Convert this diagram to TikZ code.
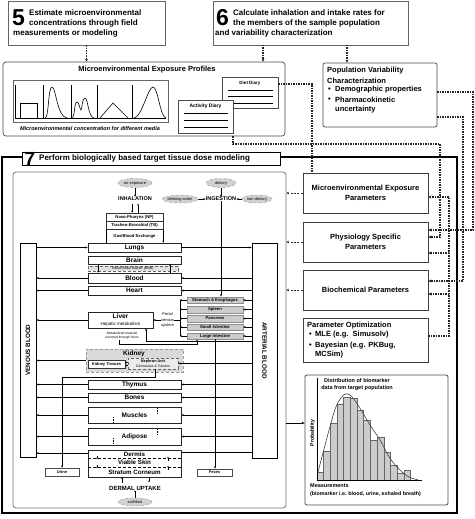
\documentclass[tikz,border=0pt]{standalone}
\usepackage{fontspec}
\setmainfont{Liberation Sans}
\usetikzlibrary{arrows.meta,shapes.geometric,calc}
\begin{document}
\begin{tikzpicture}[x=1pt,y=-1pt,
  hbox/.style={draw=black!60, line width=0.8pt, fill=white, inner sep=0pt},
  htxt/.style={inner sep=0pt, font=\fontsize{8}{9}\bfseries\selectfont},
  bignum/.style={inner sep=0pt, font=\fontsize{23}{23}\bfseries\selectfont},
  pbox/.style={draw=black!70, line width=0.7pt, fill=white, inner sep=0pt},
  ptxt/.style={inner sep=0pt, anchor=west, font=\fontsize{7.5}{9}\bfseries\selectfont},
  rbox/.style={draw=black!75, line width=0.8pt, fill=white, minimum width=125pt, minimum height=40pt, inner sep=0pt, align=center, font=\fontsize{7.5}{10}\bfseries\selectfont},
  organ/.style={draw=black!85, line width=0.6pt, fill=white, minimum width=93pt, inner sep=0pt, font=\fontsize{6.5}{7}\bfseries\selectfont},
  gi/.style={draw=black!45, fill=black!20, line width=0.4pt, minimum width=56pt, minimum height=6.5pt, inner sep=0pt, font=\fontsize{4.2}{5}\bfseries\selectfont},
  src/.style={ellipse, draw=black!40, densely dashed, line width=0.4pt, fill=black!18, inner sep=0pt, font=\fontsize{4}{5}\selectfont},
  small/.style={inner sep=0pt, font=\fontsize{4.2}{5}\bfseries\selectfont},
  arr/.style={-{Stealth[length=2.4pt,width=2pt]}, line width=0.45pt},
  tarr/.style={-{Stealth[length=1.8pt,width=1.6pt]}, line width=0.4pt},
  dotl/.style={line width=1.3pt, dash pattern=on 1.3pt off 1.2pt, black!85},
  dotarr/.style={dotl, -{Stealth[length=3pt,width=3pt]}},
  dasharr/.style={-{Stealth[length=2.6pt,width=2.6pt]}, line width=0.8pt, dash pattern=on 2pt off 1.3pt, black!80}
]
\useasboundingbox (0,0) rectangle (474,519);
\fill[white] (0,0) rectangle (474,519);

% ---------- box 5 ----------
\node[hbox, minimum width=157pt, minimum height=44pt] (b5) at (86.5,23) {};
\node[bignum] (n5) at (18.5,17.5) {5};
\node[htxt, anchor=west] (t5a) at (29,13) {Estimate microenvironmental};
\node[htxt, anchor=west] (t5b) at (29,23) {concentrations through field};
\node[htxt, anchor=west] (t5c) at (13,33.5) {measurements or modeling};

% ---------- box 6 ----------
\node[hbox, minimum width=195pt, minimum height=44pt] (b6) at (310.5,23) {};
\node[bignum] (n6) at (222.5,17.5) {6};
\node[htxt, anchor=west] (t6a) at (233,13) {Calculate inhalation and intake rates for};
\node[htxt, anchor=west] (t6b) at (233,23) {the members of the sample population};
\node[htxt, anchor=west] (t6c) at (215,33.5) {and variability characterization};

% ---------- profiles ----------
\node[pbox, rounded corners=3pt, minimum width=282pt, minimum height=74pt] (prof) at (144,99) {};
\node[inner sep=0pt, font=\fontsize{7.5}{9}\bfseries\selectfont] (proft) at (147,70) {Microenvironmental Exposure Profiles};
\node[draw=black!60, line width=0.6pt, minimum width=155pt, minimum height=42pt, inner sep=0pt] (plot) at (90.5,101) {};
\begin{scope}[line width=0.6pt]
  \draw (15,85) -- (15,118) -- (166,118);
  \draw (43,85) -- (43,118);
  \draw (71,85) -- (71,118);
  \draw (97,85) -- (97,118);
  \draw (132,85) -- (132,118);
  \draw (20,118) -- (20,103) -- (37,103) -- (37,118);
  \draw (45,118) .. controls (49,118) and (48,87) .. (52,87) .. controls (56,87) and (57,117) .. (67,118);
  \draw (72,118) .. controls (75,117) and (74,102) .. (77,102) .. controls (79,102) and (80,110) .. (81,110) .. controls (82,110) and (82,98) .. (85,98) .. controls (88,98) and (88,117) .. (94,118);
  \draw (100,118) -- (113,103) -- (128,118);
  \draw (134,118) .. controls (142,117) and (148,87) .. (153,87) .. controls (158,87) and (160,117) .. (166,118);
\end{scope}
\node[inner sep=0pt, font=\fontsize{5.5}{6}\bfseries\itshape\selectfont] (cap) at (90,129) {Microenvironmental concentration for different media};

\node[pbox, minimum width=56pt, minimum height=31pt] (diet) at (250,92.5) {};
\node[inner sep=0pt, font=\fontsize{4.5}{5}\bfseries\selectfont] (dietT) at (250,83) {Diet Diary};
\draw[line width=0.5pt] (228,90) -- (273,90) (228,96.5) -- (273,96.5) (228,103) -- (273,103);
\node[pbox, minimum width=55pt, minimum height=33pt] (act) at (205.5,116.5) {};
\node[inner sep=0pt, font=\fontsize{5}{6}\bfseries\selectfont] (actT) at (205.5,106) {Activity Diary};
\draw[line width=0.5pt] (184,113) -- (228,113) (184,120) -- (228,120) (184,127) -- (228,127);

% ---------- population variability ----------
\node[pbox, rounded corners=2pt, minimum width=114pt, minimum height=64pt] (pop) at (380,95) {};
\node[ptxt] (p1) at (327,71) {Population Variability};
\node[ptxt] (p2) at (327,80.5) {Characterization};
\node[ptxt] (p3b) at (328,90) {\textbullet};
\node[ptxt] (p3) at (335,90) {Demographic properties};
\node[ptxt] (p4b) at (328,100) {\textbullet};
\node[ptxt] (p4) at (335,100) {Pharmacokinetic};
\node[ptxt] (p5) at (335,110) {uncertainty};

% ---------- frame 7 ----------
\node[draw, line width=2.6pt, minimum width=455pt, minimum height=356pt, inner sep=0pt] (frame) at (229.5,335) {};
\node[draw, line width=0.8pt, fill=white, minimum width=258pt, minimum height=13pt, inner sep=0pt] (h7) at (151,158.5) {};
\node[inner sep=0pt, font=\fontsize{19}{19}\bfseries\selectfont] (n7) at (30,159) {7};
\node[htxt, anchor=west] (t7) at (39,158.5) {Perform biologically based target tissue dose modeling};

% ---------- inner model box ----------
\node[draw=black!55, line width=0.8pt, rounded corners=3pt, minimum width=273pt, minimum height=336pt, inner sep=0pt] (inner) at (149.5,340) {};

% ---------- right boxes ----------
\node[rbox] (mep) at (365.5,193) {Microenvironmental Exposure\\Parameters};
\node[rbox] (phys) at (365.5,242) {Physiology Specific\\Parameters};
\node[rbox] (bio) at (365.5,290) {Biochemical Parameters};
\node[rbox, minimum height=44pt] (opt) at (365.5,340) {};
\node[ptxt] (o1) at (307,326) {Parameter Optimization};
\node[ptxt] (o2b) at (309,334.5) {\textbullet};
\node[ptxt] (o2) at (315,334.5) {MLE (e.g.\ \ Simusolv)};
\node[ptxt] (o3b) at (309,346) {\textbullet};
\node[ptxt] (o3) at (315,346) {Bayesian (e.g. PKBug,};
\node[ptxt] (o4) at (315,355) {MCSim)};

\node[draw=black!70, line width=0.8pt, rounded corners=2pt, minimum width=143pt, minimum height=130pt, inner sep=0pt] (dist) at (376.5,440) {};
\foreach \t [count=\i from 0] in {471.7,450.7,422.7,404,396.7,398.3,410,420,440,436.7,451.7,465,472.7,470}
  \draw[fill=black!20, draw=black!60, line width=0.4pt] ({317+\i*6.67},480) rectangle ({317+(\i+1)*6.67},\t);
\draw[line width=0.6pt] (317,378) -- (317,480) -- (422,480);
\draw[line width=0.6pt, black!75] plot[smooth, tension=0.6] coordinates {(318,472) (323.3,451.7) (330,426.7) (336.7,405) (345,394) (351.7,396.7) (360,408.3) (370,425) (380,440) (390,458.3) (400,470) (408.3,476.7) (418.3,480)};
\node[inner sep=0pt, font=\fontsize{5.5}{6}\bfseries\selectfont] (dt1) at (357,381) {Distribution of biomarker};
\node[inner sep=0pt, font=\fontsize{5.5}{6}\bfseries\selectfont] (dt2) at (357,388) {data from target population};
\node[inner sep=0pt, rotate=90, font=\fontsize{5.2}{6}\bfseries\selectfont] (prob) at (312.5,433) {Probability};
\node[inner sep=0pt, anchor=west, font=\fontsize{5.5}{6}\bfseries\selectfont] (ms1) at (310,486) {Measurements};
\node[inner sep=0pt, anchor=west, font=\fontsize{5.3}{6}\bfseries\selectfont] (ms2) at (310,494) {(biomarker i.e. blood, urine, exhaled breath)};

% ---------- PBPK model ----------
\node[draw, line width=0.6pt, minimum width=16pt, minimum height=214pt, inner sep=0pt] (ven) at (28,350) {};
\node[inner sep=0pt, rotate=90, font=\fontsize{6.3}{7}\bfseries\selectfont] (venT) at (ven.center) {VENOUS BLOOD};
\node[draw, line width=0.6pt, minimum width=25pt, minimum height=215pt, inner sep=0pt] (art) at (264.5,350.5) {};
\node[inner sep=0pt, rotate=-90, font=\fontsize{6.3}{7}\bfseries\selectfont] (artT) at (art.center) {ARTERIAL BLOOD};

\node[src, minimum width=34pt, minimum height=9pt] (air) at (135,183) {air exposure};
\node[inner sep=0pt, font=\fontsize{5.5}{6}\bfseries\selectfont] (inh) at (135,199) {INHALATION};
\node[draw=black!80, line width=0.5pt, fill=white, minimum width=57pt, minimum height=8pt, small] (np) at (134.5,217) {Naso-Pharynx (NP)};
\node[draw=black!80, line width=0.5pt, fill=white, minimum width=57pt, minimum height=8pt, small] (tb) at (134.5,225) {Tracheo-Bronchial (TB)};
\node[small] (gas) at (134.5,236) {Gas/Blood Exchange};

\node[src, minimum width=30pt, minimum height=9pt] (dty) at (221,183) {dietary};
\node[inner sep=0pt, font=\fontsize{5.5}{6}\bfseries\selectfont] (ing) at (221,199) {INGESTION};
\node[src, minimum width=33pt, minimum height=8pt] (drw) at (180,199) {drinking water};
\node[src, minimum width=30pt, minimum height=8pt] (ndt) at (257,199) {non-dietary};

\node[organ, minimum height=9pt] (lungs) at (134.5,247.5) {Lungs};
\node[organ, minimum height=8pt] (brain) at (134.5,260) {Brain};
\node[draw=black!60, densely dashed, line width=0.4pt, fill=black!12, minimum width=90pt, minimum height=5pt, inner sep=0pt, font=\fontsize{3.6}{4}\selectfont] (bbb) at (133,268.5) {Blood Brain Barrier (BBB)};
\node[organ, minimum height=10pt] (blood) at (134.5,278) {Blood};
\node[organ, minimum height=9pt] (heart) at (134.5,290.5) {Heart};
\node[organ, minimum width=65pt, minimum height=16pt] (liver) at (120.5,320) {};
\node[inner sep=0pt, font=\fontsize{6.5}{7}\bfseries\selectfont] (liverT) at (120.5,316.5) {Liver};
\node[inner sep=0pt, font=\fontsize{4.5}{5}\selectfont] (liverS) at (120.5,324) {Hepatic metabolism};
\node[inner sep=0pt, align=center, font=\fontsize{3.3}{4}\selectfont] (metab) at (122,336) {Metabolized material\\excreted through feces};

\node[gi] (stom) at (215,300) {Stomach \& Esophagus};
\node[gi] (spl) at (215,309.5) {Spleen};
\node[gi] (pan) at (215,318.5) {Pancreas};
\node[gi] (sint) at (215,327) {Small Intestine};
\node[gi] (lint) at (215,336) {Large Intestine};

\node[draw=black!40, densely dashed, line width=0.4pt, fill=black!15, minimum width=97pt, minimum height=23pt, inner sep=0pt] (kid) at (134.5,360.5) {};
\node[inner sep=0pt, font=\fontsize{6.5}{7}\bfseries\selectfont] (kidT) at (134,353.5) {Kidney};
\node[draw=black!80, line width=0.5pt, fill=white, minimum width=37pt, minimum height=8pt, inner sep=0pt, font=\fontsize{4}{5}\bfseries\selectfont] (ktis) at (106.5,364) {Kidney Tissues};
\node[draw=black!60, densely dashed, line width=0.4pt, fill=black!8, minimum width=50pt, minimum height=11pt, inner sep=0pt, align=center, font=\fontsize{3.8}{4.4}\bfseries\selectfont] (neph) at (153,363.5) {Nephron Unit\\{\fontsize{3.4}{4}\mdseries\selectfont Glomerulus \& Tubules}};

\node[organ, minimum height=9pt] (thy) at (134.5,384.5) {Thymus};
\node[organ, minimum height=9pt] (bon) at (134.5,397.5) {Bones};
\node[organ, minimum height=16pt] (mus) at (134.5,415) {Muscles};
\node[organ, minimum height=17pt] (adi) at (134.5,436.5) {Adipose};
\node[organ, minimum height=27pt] (skin) at (134.5,463.5) {};
\draw[densely dashed, line width=0.5pt] (88,458) -- (181,458) (88,467) -- (181,467);
\node[inner sep=0pt, font=\fontsize{6.2}{7}\bfseries\selectfont] (derT) at (134.5,453.8) {Dermis};
\node[inner sep=0pt, font=\fontsize{6.2}{7}\bfseries\selectfont] (visT) at (134.5,462.6) {Viable Skin};
\node[inner sep=0pt, font=\fontsize{6.2}{7}\bfseries\selectfont] (strT) at (134.5,472.3) {Stratum Corneum};
\node[inner sep=0pt, font=\fontsize{6}{7}\bfseries\selectfont] (derm) at (135,488) {DERMAL UPTAKE};
\node[src, minimum width=34pt, minimum height=8pt] (soil) at (135,502) {soil/dust};

\node[draw=black!70, line width=0.5pt, fill=white, minimum width=35pt, minimum height=7pt, inner sep=0pt, font=\fontsize{4}{5}\bfseries\selectfont] (feces) at (214.5,472.5) {Feces};
\node[draw=black!70, line width=0.5pt, fill=white, minimum width=34pt, minimum height=8pt, inner sep=0pt, font=\fontsize{4}{5}\bfseries\selectfont] (urine) at (62,472) {Urine};

% marks in muscles / adipose
\begin{scope}[line width=1pt, dash pattern=on 0.8pt off 0.7pt]
  \draw (113,417) -- (113,422) (157,408) -- (157,413);
  \draw (113,438) -- (113,443) (157,429) -- (157,434);
\end{scope}

% ---------- internal connectors ----------
\draw[arr] (air.south) -- (inh.north);
\coordinate (i1) at (132,203.5);
\coordinate (i2) at (138,203.5);
\draw[tarr] (i1) -- (i1 |- np.north);
\draw[tarr] (i2 |- np.north) -- (i2);
\draw[line width=0.5pt] (tb.south west) -- (tb.south west |- lungs.north);
\draw[tarr] (tb.south east) -- (tb.south east |- lungs.north);
\draw[arr] (dty.south) -- (ing.north);
\draw[arr] (drw.east) -- (ing.west);
\draw[arr] (ndt.west) -- (ing.east);
\draw[arr] (ing.south) -- (ing.south |- stom.north);

\draw[arr] (lungs.east) -- (lungs.east -| art.west);
\draw[arr] (ven.east |- lungs.west) -- (lungs.west);
\foreach \o in {blood,heart,thy,bon,mus,adi} {
  \draw[arr] (art.west |- \o.east) -- (\o.east);
  \draw[arr] (\o.west) -- (ven.east |- \o.west);
}
\coordinate (bb1) at (98,264);
\coordinate (bb2) at (170,273);
\draw[tarr] (bb1) -- (bb1 |- blood.north);
\draw[tarr] (bb2) -- (bb2 |- brain.south);

\foreach \g in {stom,spl,pan,sint,lint} {
  \draw[arr] (art.west |- \g.east) -- (\g.east);
}
\coordinate (ptop) at (180,300);
\coordinate (pbot) at (180,336);
\coordinate (pmid) at (180,320);
\draw[line width=0.45pt] (ptop) -- (pbot);
\foreach \g in {stom,spl,pan,sint,lint} {
  \draw[tarr] (\g.west) -- (\g.west -| ptop);
}
\draw[arr] (pmid) -- (liver.east |- pmid);
\node[inner sep=0.3pt, fill=white, align=center, font=\fontsize{4}{5.6}\selectfont] (portal) at (167.5,320) {Portal\\venous\\system};
\draw[arr] (liver.west) -- (ven.east |- liver.west);
\coordinate (hepA) at (146,341.5);
\draw[arr] (art.west |- hepA) -- (hepA) -- (hepA |- liver.south);
\coordinate (mtop) at (119,339.5);
\coordinate (mcor) at (119,344.5);
\coordinate (licor) at (197,344.5);
\draw[arr] (mtop) -- (mcor) -- (licor) -- (licor |- lint.south);
\draw[arr] (lint.south) -- (lint.south |- feces.north);

\draw[arr] (art.west |- neph.east) -- (neph.east);
\draw[arr] (kid.west) -- (ven.east |- kid.west);
\draw[tarr] ($(ktis.east)+(0,-1.5)$) -- ($(ktis.east -| neph.west)+(0,-1.5)$);
\draw[tarr] ($(ktis.east -| neph.west)+(0,1.5)$) -- ($(ktis.east)+(0,1.5)$);
\coordinate (ucor) at (155,377);
\coordinate (ucor2) at (62,377);
\draw[arr] (ucor |- neph.south) -- (ucor) -- (ucor2) -- (urine.north);

\coordinate (dermR) at (181,452);
\coordinate (dermL) at (88,453);
\draw[line width=0.45pt] (dermR) -- (dermR -| art.west);
\draw[arr] (dermL) -- (dermL -| ven.east);
\coordinate (sk1) at (168,460.5);
\coordinate (sk2) at (168,469.5);
\coordinate (sk3) at (97,455.5);
\coordinate (sk4) at (97,464.5);
\draw[tarr] (sk1) -- ++(0,-4);
\draw[tarr] (sk2) -- ++(0,-4);
\draw[tarr] (sk3) -- ++(0,4);
\draw[tarr] (sk4) -- ++(0,4);
\coordinate (du1) at (122,482.5);
\coordinate (du2) at (149,482.5);
\draw[tarr] (du1) -- (du1 |- skin.south);
\draw[tarr] (du2 |- skin.south) -- (du2);
\draw[tarr] (soil.north) -- (derm.south);

% ---------- right side connectors ----------
\draw[dasharr] (mep.west) -- (mep.west -| inner.east);
\draw[dasharr] (phys.west) -- (phys.west -| inner.east);
\draw[dasharr] (bio.west) -- (bio.west -| inner.east);
\coordinate (da) at (286,423);
\draw[-{Stealth[length=3pt,width=2.6pt]}, line width=0.8pt] (da) -- (da -| dist.west);

% ---------- dotted connectors ----------
\draw[dotarr] (b5.south) -- (b5.south |- prof.north);
\coordinate (c6a) at (263,45);
\coordinate (c6b) at (347,45);
\draw[dotarr] (c6a) -- (c6a |- prof.north);
\draw[dotarr] (c6b) -- (c6b |- pop.north);
\coordinate (k4) at (312,84);
\draw[dotarr] (diet.east |- k4) -- (k4) -- (k4 |- mep.north);
\coordinate (k5a) at (233,144);
\coordinate (k5b) at (440,144);
\coordinate (k5c) at (440,237);
\draw[dotarr] (k5a |- prof.south) -- (k5a) -- (k5b) -- (k5c) -- (k5c -| phys.east);
\coordinate (k6a) at (473,92);
\coordinate (k6b) at (473,230);
\draw[dotarr] (pop.east |- k6a) -- (k6a) -- (k6b) -- (k6b -| phys.east);
\coordinate (k7a) at (463,117);
\coordinate (k7b) at (463,281);
\draw[dotarr] (pop.east |- k7a) -- (k7a) -- (k7b) -- (k7b -| bio.east);
\coordinate (k8a) at (449,336);
\coordinate (k8b) at (449,197);
\coordinate (k8c) at (449,253);
\coordinate (k8d) at (449,294);
\draw[dotarr] (opt.east |- k8a) -- (k8a) -- (k8b) -- (k8b -| mep.east);
\draw[dotarr] (k8c) -- (k8c -| phys.east);
\draw[dotarr] (k8d) -- (k8d -| bio.east);
\end{tikzpicture}
\end{document}
